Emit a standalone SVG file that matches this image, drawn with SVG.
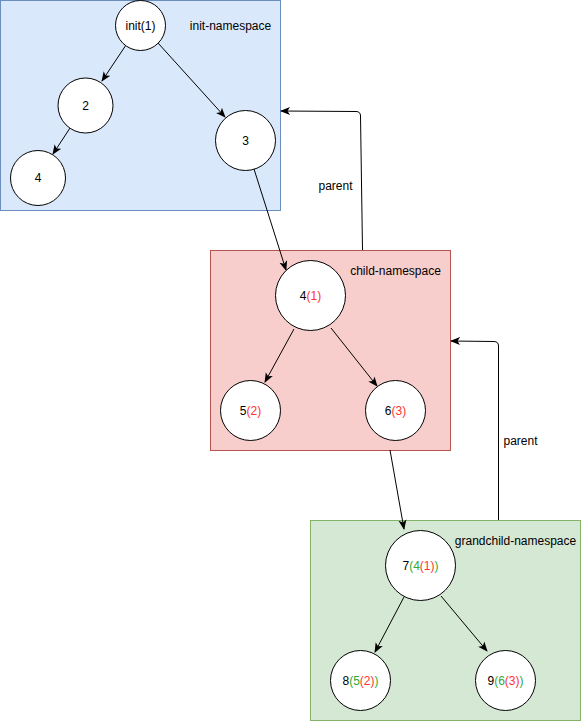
<svg xmlns="http://www.w3.org/2000/svg" width="587" height="722" viewBox="0 0 587 722">
<defs>
<marker id="arr" viewBox="0 0 10 10" refX="9" refY="5" markerWidth="10" markerHeight="10" markerUnits="userSpaceOnUse" orient="auto">
<path d="M0,1 L10,5 L0,9 L2.5,5 Z" fill="#000"/>
</marker>
</defs>
<style>
text{font-family:"Liberation Sans",Arial,sans-serif;font-size:12px;fill:#000;}
.c{text-anchor:middle;dominant-baseline:central;}
.node circle{fill:#fff;stroke:#000;stroke-width:1;}
.edge{fill:none;stroke:#000;stroke-width:1;marker-end:url(#arr);}
.r{fill:#FF3333;}
.g{fill:#33A833;}
</style>
<g id="init-namespace"><rect x="0.5" y="0.5" width="280" height="210" fill="#dae8fc" stroke="#6c8ebf"/><text class="c" x="230.5" y="25.5">init-namespace</text></g>
<g id="child-namespace"><rect x="210.5" y="250.5" width="240" height="200" fill="#f8cecc" stroke="#b85450"/><text class="c" x="395.5" y="270.5">child-namespace</text></g>
<g id="grandchild-namespace"><rect x="310.5" y="520.5" width="270" height="200" fill="#d5e8d4" stroke="#82b366"/><text class="c" x="515.5" y="540.5">grandchild-namespace</text></g>
<g id="connectors">
<path class="edge" d="M126,45 L102,81"/>
<path class="edge" d="M158,43 L225,117"/>
<path class="edge" d="M70,128 L53,154"/>
<path class="edge" d="M254,169 L286,270"/>
<path class="edge" d="M362.5,250 L360.5,116 Q360.5,111.5 356,111.5 L281,111"/>
<path class="edge" d="M294,329 L265,382"/>
<path class="edge" d="M331,328 L377,386"/>
<path class="edge" d="M390,450 L404,529"/>
<path class="edge" d="M498.5,520 L498.5,346 Q498.5,341.5 494,341.5 L451,341"/>
<path class="edge" d="M404,597 L375,652"/>
<path class="edge" d="M441,596 L487,651"/>
<text class="c" x="335.5" y="186">parent</text>
<text class="c" x="520.5" y="441">parent</text>
</g>
<g id="n-init" class="node"><circle cx="140.5" cy="25.5" r="25"/><text class="c" x="140.5" y="25.5">init(1)</text></g>
<g id="n-2" class="node"><circle cx="85.5" cy="105.5" r="27.5"/><text class="c" x="85.5" y="105.5">2</text></g>
<g id="n-4" class="node"><circle cx="38" cy="178" r="27.5"/><text class="c" x="38" y="178">4</text></g>
<g id="n-3" class="node"><circle cx="245.5" cy="140.5" r="30"/><text class="c" x="245.5" y="140.5">3</text></g>
<g id="n-4-1" class="node"><circle cx="310.5" cy="295.5" r="35"/><text class="c" x="310.5" y="295.5">4<tspan class="r">(1)</tspan></text></g>
<g id="n-5-2" class="node"><circle cx="250.5" cy="410.5" r="30"/><text class="c" x="250.5" y="410.5">5<tspan class="r">(2)</tspan></text></g>
<g id="n-6-3" class="node"><circle cx="395.5" cy="410.5" r="30"/><text class="c" x="395.5" y="410.5">6<tspan class="r">(3)</tspan></text></g>
<g id="n-7" class="node"><circle cx="420.5" cy="565.5" r="35"/><text class="c" x="420.5" y="565.5">7<tspan class="g">(4</tspan><tspan class="r">(1)</tspan><tspan class="g">)</tspan></text></g>
<g id="n-8" class="node"><circle cx="360.5" cy="680.5" r="30"/><text class="c" x="360.5" y="680.5">8<tspan class="g">(5</tspan><tspan class="r">(2)</tspan><tspan class="g">)</tspan></text></g>
<g id="n-9" class="node"><circle cx="505.5" cy="680.5" r="30"/><text class="c" x="505.5" y="680.5">9<tspan class="g">(6</tspan><tspan class="r">(3)</tspan><tspan class="g">)</tspan></text></g>
</svg>
